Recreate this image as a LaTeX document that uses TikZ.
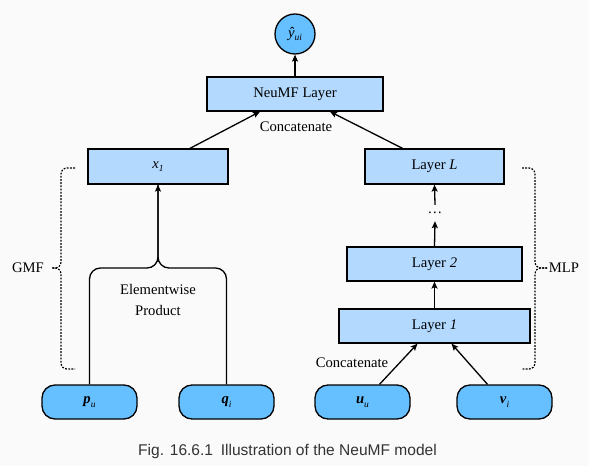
\documentclass[tikz,border=0pt]{standalone}
\usepackage{fontspec}
\setmainfont{Liberation Serif}
\newfontfamily\capfont{Liberation Sans}
\usetikzlibrary{arrows.meta,calc}
\definecolor{boxfill}{HTML}{B3D9FF}
\definecolor{pillfill}{HTML}{66BFFF}
\definecolor{bgcol}{HTML}{FAFAFA}
\definecolor{capcol}{HTML}{333333}
\newcommand{\mysub}[1]{\raisebox{-3.5bp}{\fontsize{9.5}{10}\selectfont\itshape #1}}
\tikzset{
  every node/.style={font=\fontsize{14.7}{17}\selectfont},
  layerbox/.style={draw=black, line width=1.3bp, fill=boxfill, minimum height=34bp, inner sep=0pt},
  pill/.style={draw=black, line width=1.3bp, fill=pillfill, rounded corners=13bp, minimum width=95bp, minimum height=34bp, inner sep=0pt},
  outnode/.style={draw=black, line width=1.3bp, fill=pillfill, circle, minimum size=40bp, inner sep=0pt},
  conn/.style={line width=1.3bp, -{Stealth[length=7bp,width=6bp,inset=1.5bp]}},
  plainconn/.style={line width=1.3bp},
  bracestyle/.style={line width=1.2bp, dash pattern=on 1.8bp off 1.4bp, rounded corners=6bp},
  lbl/.style={inner sep=0pt}
}
\begin{document}
\begin{tikzpicture}[x=1bp,y=-1bp]
\fill[bgcol] (0,0) rectangle (589,466);
\useasboundingbox (0,0) rectangle (589,466);

\node[outnode] (yhat) at (295,34) {\itshape ŷ\mysub{ui}};
\node[layerbox, minimum width=176bp] (neumf) at (295,94) {NeuMF Layer};
\node[lbl] (concat1) at (296,127) {Concatenate};

\node[layerbox, minimum width=140bp, minimum height=35bp] (x1) at (158,166.5) {\itshape x\mysub{1}};
\node[layerbox, minimum width=139bp, minimum height=35bp] (layerL) at (434.5,166.5) {Layer \textit{L}};
\node[inner sep=0pt, minimum height=16bp, minimum width=20bp] (dots) at (435,213) {\ldots};
\node[layerbox, minimum width=175bp] (layer2) at (434.5,264) {Layer \textit{2}};
\node[layerbox, minimum width=191bp] (layer1) at (434.5,326) {Layer \textit{1}};

\node[pill] (pu) at (89.5,402) {\textbf{\itshape p}\mysub{u}};
\node[pill] (qi) at (226.5,402) {\textbf{\itshape q}\mysub{i}};
\node[pill] (uu) at (362.5,402) {\textbf{\itshape u}\mysub{u}};
\node[pill] (vi) at (504.5,402) {\textbf{\itshape v}\mysub{i}};

\node[lbl, align=center] (ewp) at (158,300) {Elementwise\\[4bp]Product};
\node[lbl] (concat2) at (352,363) {Concatenate};
\node[lbl] (gmf) at (28,268) {GMF};
\node[lbl] (mlp) at (564,268) {MLP};

% connectors
\draw[conn] (neumf.north) -- (yhat.south);
\draw[conn] ([xshift=32bp]x1.north) -- ([xshift=-35bp]neumf.south);
\draw[conn] ([xshift=-32bp]layerL.north) -- ([xshift=35bp]neumf.south);
\draw[conn] (dots.north) -- (layerL.south);
\draw[conn] (layer2.north) -- (dots.south);
\draw[conn] (layer1.north) -- (layer2.south);
\draw[conn] ([xshift=17bp]uu.north) -- ([xshift=-17bp]layer1.south);
\draw[conn] ([xshift=-17bp]vi.north) -- ([xshift=17bp]layer1.south);

\coordinate (junc) at (158,268);
\draw[plainconn, rounded corners=11bp] (pu.north) |- (junc) -- (x1.south);
\draw[conn, rounded corners=11bp] (qi.north) |- (junc) -- (x1.south);

% braces
\coordinate (gtop) at (75,168);
\coordinate (gbot) at (75,369);
\coordinate (gtip) at (52,268);
\draw[bracestyle] (gtop) -- (61,168) -- (61,268) -- (gtip);
\draw[bracestyle] (gtip) -- (61,268) -- (61,369) -- (gbot);
\coordinate (mtop) at (522,168);
\coordinate (mbot) at (522,369);
\coordinate (mtip) at (547,268);
\draw[bracestyle] (mtop) -- (535,168) -- (535,268) -- (mtip);
\draw[bracestyle] (mtip) -- (535,268) -- (535,369) -- (mbot);

\node[lbl, text=capcol, font=\capfont\fontsize{15.6}{18}\selectfont, anchor=base] (caption) at (287.5,455) {Fig. 16.6.1\hspace{0.5em}Illustration of the NeuMF model};
\end{tikzpicture}
\end{document}
